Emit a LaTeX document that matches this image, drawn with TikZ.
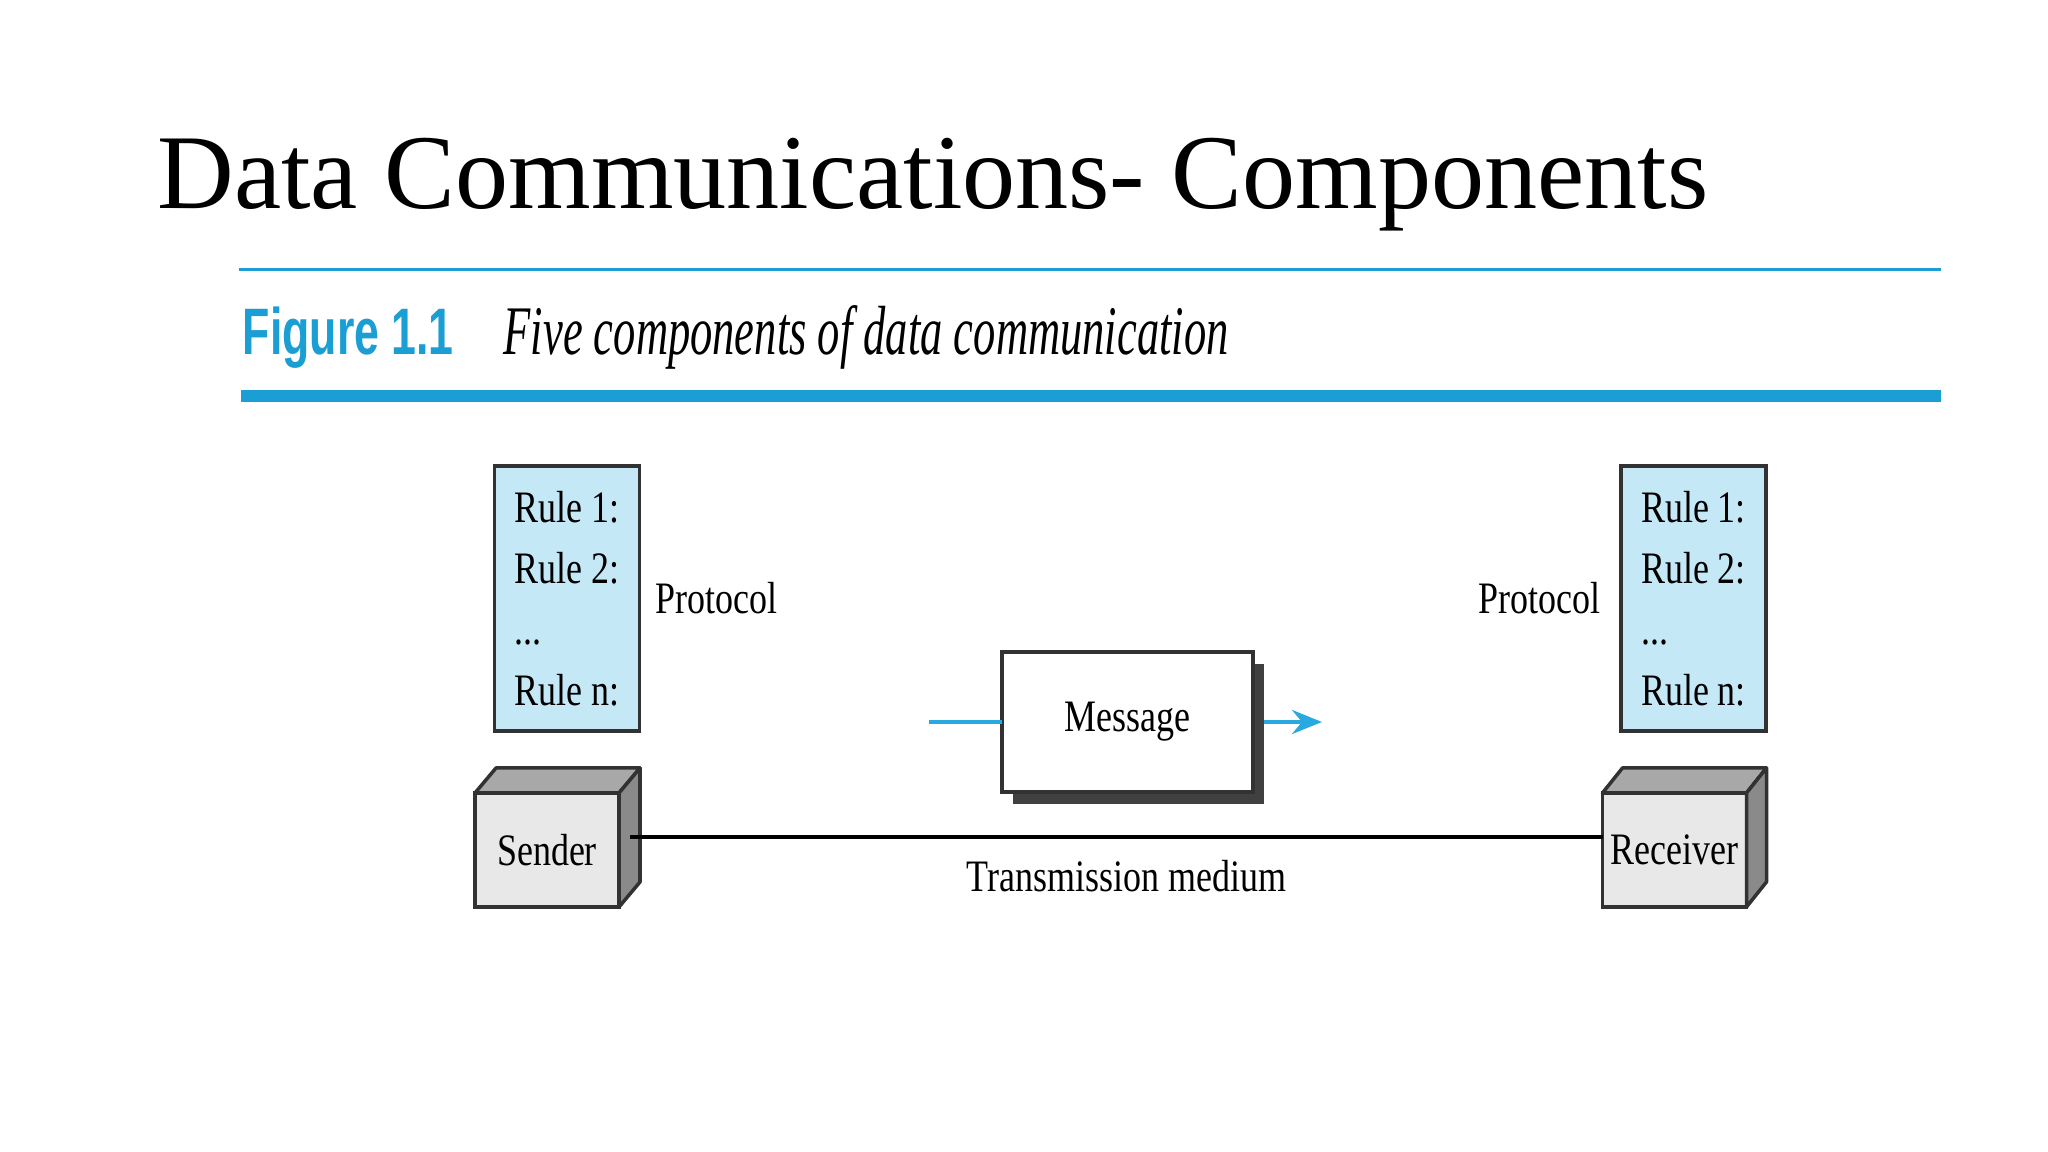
\documentclass[tikz,border=0pt]{standalone}
\usepackage{fontspec}
\setmainfont{Liberation Serif}
\newfontfamily\narrowserif[FakeStretch=0.8]{Liberation Serif}
\newfontfamily\captionserif[FakeStretch=0.64]{Liberation Serif}
\newfontfamily\figlabelsans[FakeStretch=0.68]{Liberation Sans}
\usetikzlibrary{positioning,shadows,arrows.meta}

\definecolor{figblue}{RGB}{27,158,212}
\definecolor{ruleblue}{RGB}{197,232,247}
\definecolor{edgegray}{RGB}{50,50,50}
\definecolor{facegray}{RGB}{232,232,232}
\definecolor{topgray}{RGB}{168,168,168}
\definecolor{sidegray}{RGB}{138,138,138}
\definecolor{msgarrow}{RGB}{40,170,225}

\tikzset{
  figtext/.style={font=\narrowserif\fontsize{12.8}{17.35}\selectfont, inner sep=0},
  rulebox/.style={draw=edgegray, line width=1pt, fill=ruleblue, minimum width=1.45cm, minimum height=2.65cm, align=left, font=\narrowserif\fontsize{12.8}{17.35}\selectfont},
  station/.style={draw=edgegray, line width=1pt, fill=facegray, minimum width=1.44cm, minimum height=1.14cm, outer sep=0, inner sep=0, font=\narrowserif\fontsize{12.8}{17.35}\selectfont},
  topface/.style={draw=edgegray, line width=1pt, fill=topgray, line join=round},
  sideface/.style={draw=edgegray, line width=1pt, fill=sidegray, line join=round},
  msgbox/.style={draw=edgegray, line width=1pt, fill=white, minimum width=2.51cm, minimum height=1.40cm, outer sep=0, font=\narrowserif\fontsize{12.8}{17.35}\selectfont, drop shadow={shadow xshift=0.11cm, shadow yshift=-0.12cm, fill=black!75, opacity=1}},
  msgflow/.style={draw=msgarrow, line width=1.3pt},
  medium/.style={draw=black, line width=1pt},
}

\begin{document}
\begin{tikzpicture}[x=1cm,y=1cm]
\fill[white] (0,0) rectangle (20.48,11.52);
\useasboundingbox (0,0) rectangle (20.48,11.52);

% heading and figure caption
\node[anchor=base west, inner sep=0, font=\fontsize{30.2}{36}\selectfont] (title) at (1.57,9.43) {Data Communications- Components};
\draw[figblue, line width=0.85pt] (2.39,8.82) -- (19.41,8.82);
\node[anchor=base west, inner sep=0, text=figblue, font=\figlabelsans\bfseries\fontsize{18.7}{22}\selectfont] (fignum) at (2.42,7.97) {Figure 1.1};
\node[anchor=base west, inner sep=0, font=\captionserif\itshape\fontsize{19.8}{24}\selectfont] (figcap) at (5.03,7.97) {Five components of data communication};
\draw[figblue, line width=3.6pt] (2.41,7.56) -- (19.41,7.56);

% protocols
\node[rulebox] (protL) at (5.67,5.535) {Rule 1:\\Rule 2:\\...\\Rule n:};
\node[rulebox] (protR) at (16.935,5.535) {Rule 1:\\Rule 2:\\...\\Rule n:};
\node[figtext, right=0.14cm of protL] (protLlabel) {Protocol};
\node[figtext, left=0.18cm of protR] (protRlabel) {Protocol};

% sender and receiver
\node[station] (sender) at (5.47,3.02) {Sender};
\draw[topface] (sender.north west) -- ++(0.21,0.25) -- ([shift={(0.21,0.25)}]sender.north east) -- (sender.north east) -- cycle;
\draw[sideface] (sender.north east) -- ++(0.21,0.25) -- ([shift={(0.21,0.25)}]sender.south east) -- (sender.south east) -- cycle;
\node[station] (receiver) at (16.745,3.02) {Receiver};
\draw[topface] (receiver.north west) -- ++(0.2,0.25) -- ([shift={(0.2,0.25)}]receiver.north east) -- (receiver.north east) -- cycle;
\draw[sideface] (receiver.north east) -- ++(0.2,0.25) -- ([shift={(0.2,0.25)}]receiver.south east) -- (receiver.south east) -- cycle;

\draw[medium] ([xshift=0.11cm,yshift=0.13cm]sender.east) -- ([yshift=0.13cm]receiver.west)
  node[figtext, midway, below=0.22cm, xshift=0.1cm] (mediumlabel) {Transmission medium};

% message
\node[msgbox] (message) at (11.275,4.30) {Message};
\coordinate (msgin) at (9.29,4.30);
\coordinate (msgout) at (13.22,4.30);
\draw[msgflow] (msgin) -- (message.west);
\draw[msgflow, -{Stealth[length=3mm, width=2.4mm, inset=1mm]}] ([xshift=0.11cm]message.east) -- (msgout);
\end{tikzpicture}
\end{document}
